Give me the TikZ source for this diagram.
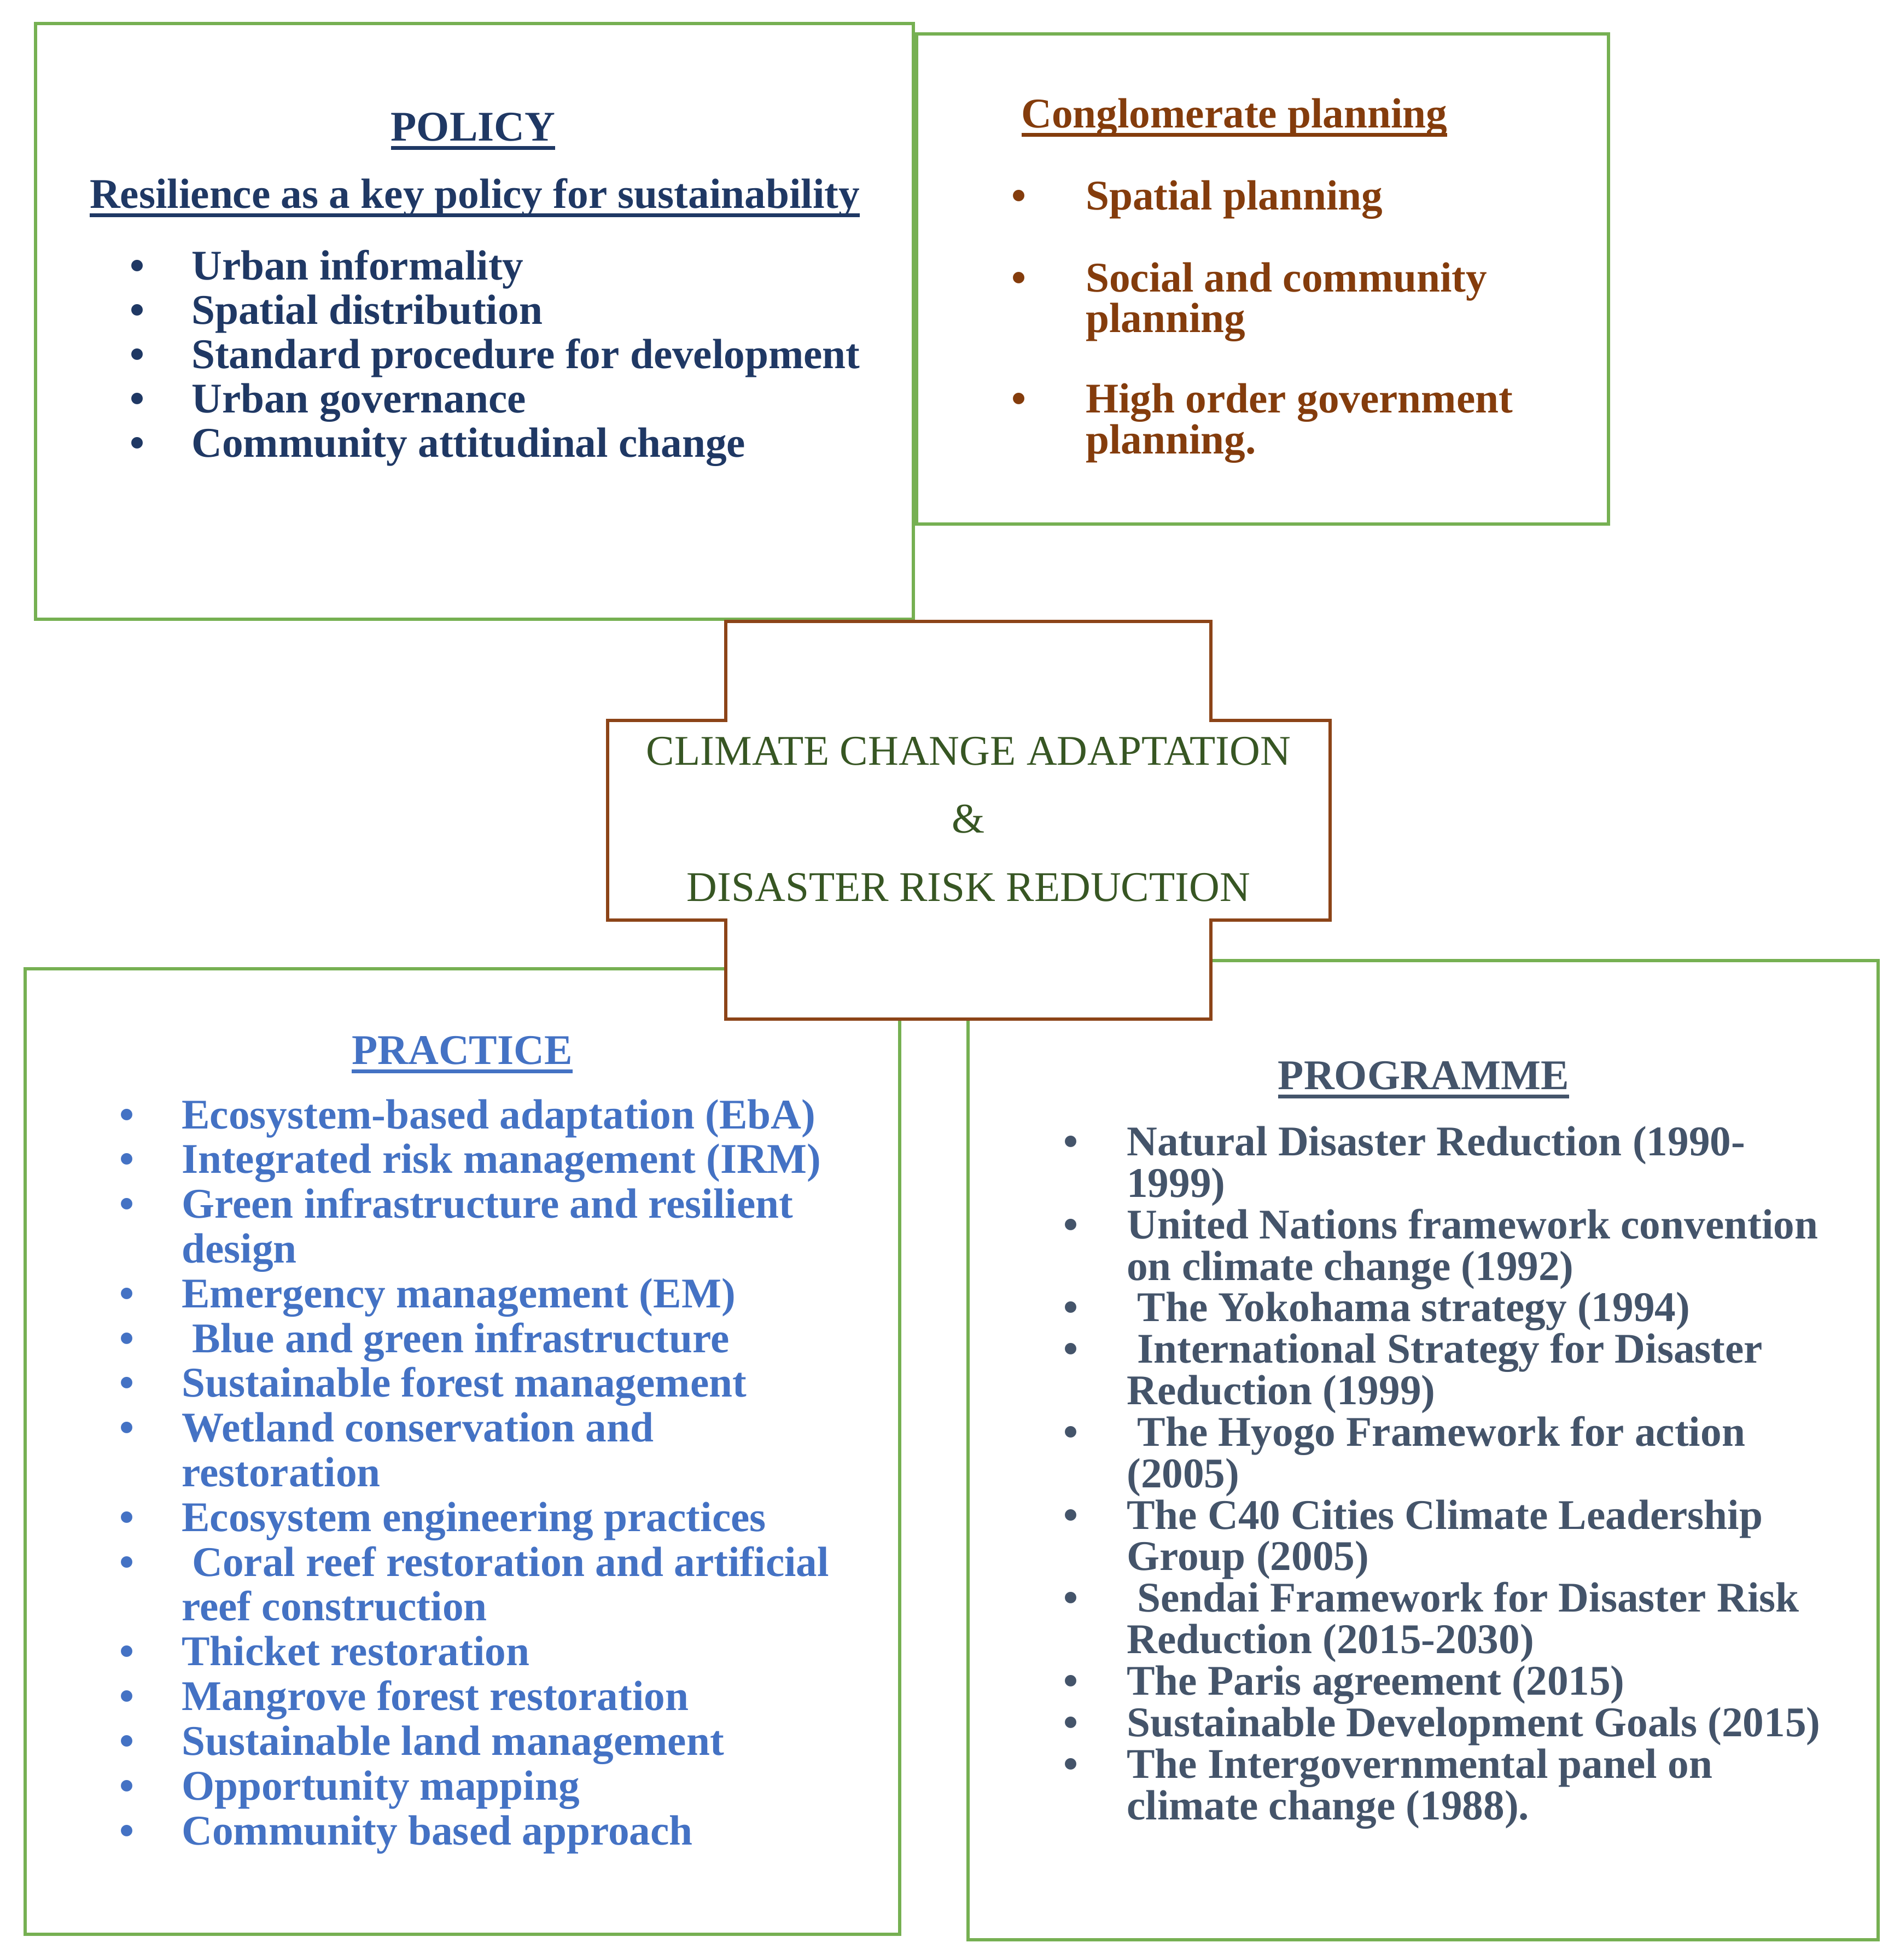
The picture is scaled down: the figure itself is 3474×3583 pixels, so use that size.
\documentclass[tikz,border=0pt]{standalone}
\usepackage{fontspec}
\setmainfont{Liberation Serif}
\usetikzlibrary{positioning}
\definecolor{boxgreen}{RGB}{118,176,82}
\definecolor{crossbrown}{RGB}{140,68,24}
\definecolor{policyblue}{RGB}{31,56,100}
\definecolor{planbrown}{RGB}{132,60,12}
\definecolor{centregreen}{RGB}{55,86,35}
\definecolor{practiceblue}{RGB}{68,114,196}
\definecolor{programmegrey}{RGB}{68,84,106}
\newlength{\bulletgap}
\newcommand{\bitem}[1]{\makebox[\bulletgap][l]{\textbullet}#1}
\newcommand{\bcont}[1]{\hspace*{\bulletgap}#1}
\newcommand{\titleline}[1]{\setbox0=\hbox{#1}\rlap{\rule[-2.4pt]{\wd0}{1pt}}\box0}
\tikzstyle{panel} = [draw=boxgreen, line width=0.85pt]
\tikzstyle{crossbox} = [draw=crossbrown, line width=0.85pt, fill=white]
\tikzstyle{title} = [inner sep=0, anchor=base, font=\fontsize{11}{13}\selectfont\bfseries]
\tikzstyle{list} = [inner sep=0, anchor=base west, align=left]
\begin{document}
\begin{tikzpicture}[x=0.005cm, y=-0.005cm]
    \useasboundingbox (0,0) rectangle (3474,3583);

    % the four panels
    \draw [panel] (65,43) rectangle (1670,1132);
    \draw [panel] (1676,62) rectangle (2941,958);
    \draw [panel] (46,1771) rectangle (1645,3536);
    \draw [panel] (1770,1756) rectangle (3434,3546);

    % centre cross (text nodes below sit on the baseline of their last line)
    \draw [crossbox] (1327,1136) -- (2214,1136) -- (2214,1317) -- (2432,1317) -- (2432,1682) -- (2214,1682)
        -- (2214,1863) -- (1327,1863) -- (1327,1682) -- (1111,1682) -- (1111,1317) -- (1327,1317) -- cycle;
    \node (centre) [inner sep=0, anchor=base, align=center, text=centregreen, font=\fontsize{11}{17.7}\selectfont]
        at (1771,1647) {CLIMATE CHANGE ADAPTATION\\\&\\DISASTER RISK REDUCTION};

    % policy
    \node (policytitle) [title, text=policyblue] at (865,257) {\titleline{POLICY}};
    \node (policysub) [title, text=policyblue] at (868,380) {\titleline{Resilience as a key policy for sustainability}};
    \node (policylist) [list, text=policyblue, font=\fontsize{11}{11.5}\selectfont\bfseries,
        execute at begin node={\setlength{\bulletgap}{5.65mm}}] at (236,835)
        {\bitem{Urban informality}\\
         \bitem{Spatial distribution}\\
         \bitem{Standard procedure for development}\\
         \bitem{Urban governance}\\
         \bitem{Community attitudinal change}};

    % conglomerate planning
    \node (plantitle) [title, text=planbrown] at (2257,233) {\titleline{Conglomerate planning}};
    \node (planlist) [list, text=planbrown, font=\fontsize{11}{10.6}\selectfont\bfseries,
        execute at begin node={\setlength{\bulletgap}{6.8mm}}] at (1848,829)
        {\bitem{Spatial planning}\\[10.7pt]
         \bitem{Social and community}\\
         \bcont{planning}\\[10.3pt]
         \bitem{High order government}\\
         \bcont{planning.}};

    % practice
    \node (practicetitle) [title, text=practiceblue] at (845,1945) {\titleline{PRACTICE}};
    \node (practicelist) [list, text=practiceblue, font=\fontsize{11}{11.65}\selectfont\bfseries,
        execute at begin node={\setlength{\bulletgap}{5.7mm}}] at (217,3372)
        {\bitem{Ecosystem-based adaptation (EbA)}\\
         \bitem{Integrated risk management (IRM)}\\
         \bitem{Green infrastructure and resilient}\\
         \bcont{design}\\
         \bitem{Emergency management (EM)}\\
         \bitem{\ Blue and green infrastructure}\\
         \bitem{Sustainable forest management}\\
         \bitem{Wetland conservation and}\\
         \bcont{restoration}\\
         \bitem{Ecosystem engineering practices}\\
         \bitem{\ Coral reef restoration and artificial}\\
         \bcont{reef construction}\\
         \bitem{Thicket restoration}\\
         \bitem{Mangrove forest restoration}\\
         \bitem{Sustainable land management}\\
         \bitem{Opportunity mapping}\\
         \bitem{Community based approach}};

    % programme
    \node (programmetitle) [title, text=programmegrey] at (2603,1991) {\titleline{PROGRAMME}};
    \node (programmelist) [list, text=programmegrey, font=\fontsize{11}{10.8}\selectfont\bfseries,
        execute at begin node={\setlength{\bulletgap}{5.8mm}}] at (1943,3326)
        {\bitem{Natural Disaster Reduction (1990-}\\
         \bcont{1999)}\\
         \bitem{United Nations framework convention}\\
         \bcont{on climate change (1992)}\\
         \bitem{\ The Yokohama strategy (1994)}\\
         \bitem{\ International Strategy for Disaster}\\
         \bcont{Reduction (1999)}\\
         \bitem{\ The Hyogo Framework for action}\\
         \bcont{(2005)}\\
         \bitem{The C40 Cities Climate Leadership}\\
         \bcont{Group (2005)}\\
         \bitem{\ Sendai Framework for Disaster Risk}\\
         \bcont{Reduction (2015-2030)}\\
         \bitem{The Paris agreement (2015)}\\
         \bitem{Sustainable Development Goals (2015)}\\
         \bitem{The Intergovernmental panel on}\\
         \bcont{climate change (1988).}};
  \end{tikzpicture}
\end{document}
